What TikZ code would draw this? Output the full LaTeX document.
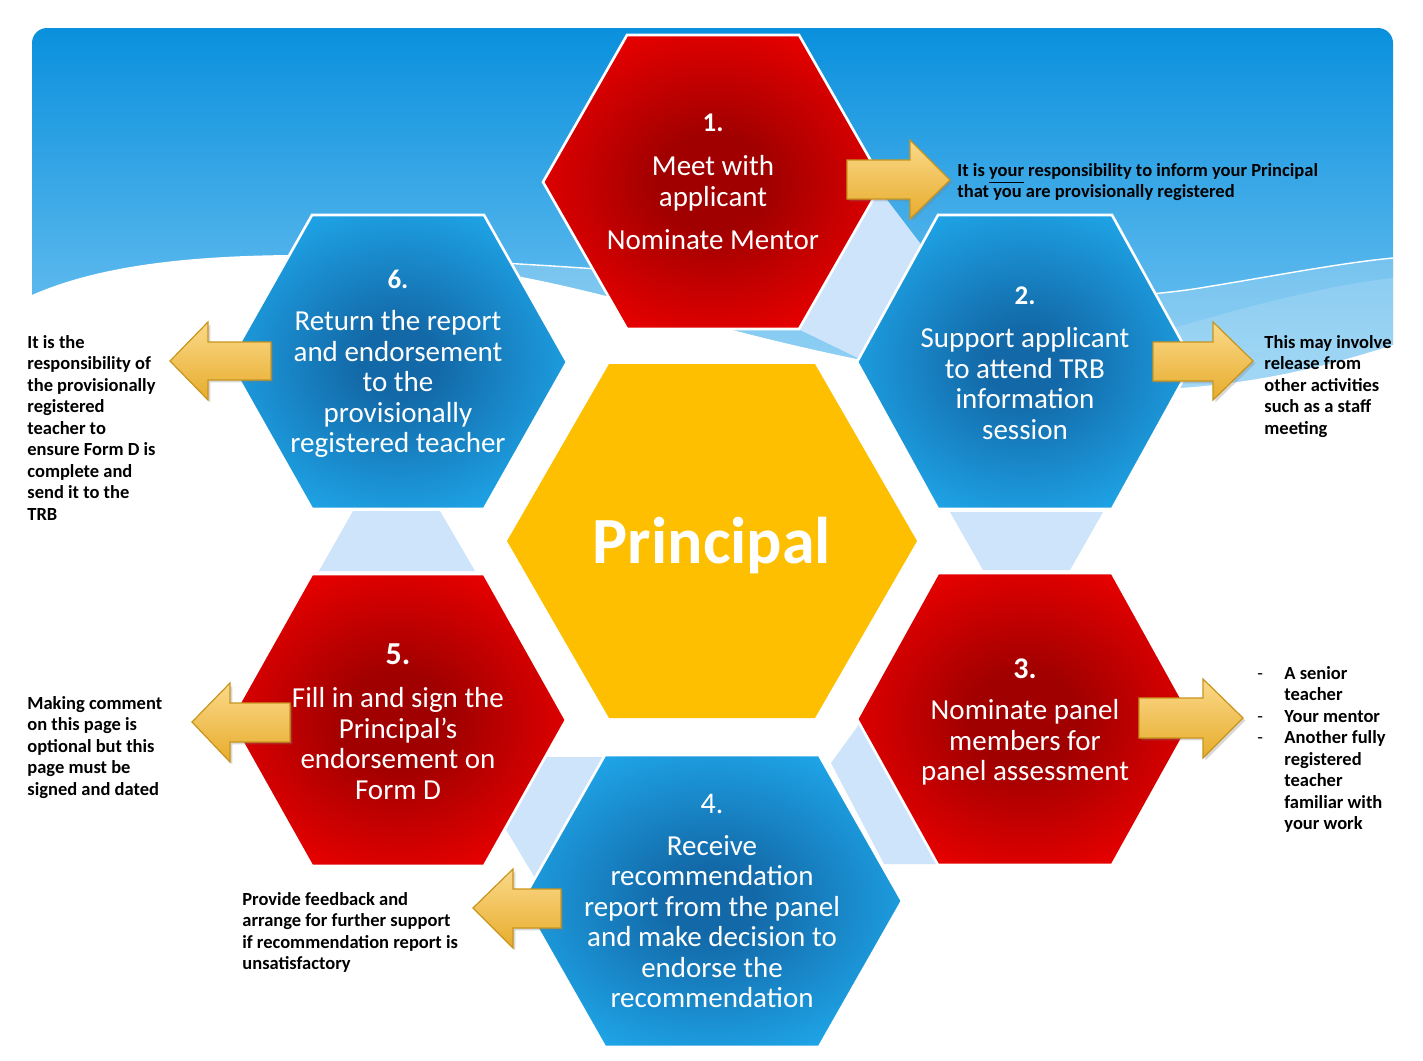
\documentclass[tikz,border=0pt]{standalone}
\usepackage{fontspec}
\setmainfont{Carlito}
\usetikzlibrary{shadows}
\definecolor{bgtop}{HTML}{0A90DD}
\definecolor{bgbot}{HTML}{93D4F8}
\definecolor{redin}{HTML}{A00000}
\definecolor{redout}{HTML}{E80000}
\definecolor{bluein}{HTML}{1369A8}
\definecolor{blueout}{HTML}{1FA9EC}
\definecolor{hexyellow}{HTML}{FDBF00}
\definecolor{bandblue}{HTML}{CDE4FA}
\definecolor{goldtop}{HTML}{FBD98A}
\definecolor{goldbot}{HTML}{E7AC2C}
\definecolor{goldedge}{HTML}{C8951C}
\pgfdeclareradialshading{redhex}{\pgfpoint{0bp}{0bp}}{color(0bp)=(redin); color(8bp)=(redin); color(28bp)=(redout); color(50bp)=(redout)}
\pgfdeclareradialshading{bluehex}{\pgfpoint{0bp}{0bp}}{color(0bp)=(bluein); color(6bp)=(bluein); color(30bp)=(blueout); color(50bp)=(blueout)}
\newcommand\hexfont{\fontsize{14.5}{15.25}\selectfont}
\newcommand\numfont{\fontsize{13.5}{15.25}\selectfont\bfseries}
\newcommand\notefont{\fontsize{9.25}{10.75}\selectfont\bfseries}
\newcommand\hexa[6]{\path[#1] ({#2-#4},{#3-#6}) -- ({#2+#4},{#3-#6}) -- ({#2+#5},#3) -- ({#2+#4},{#3+#6}) -- ({#2-#4},{#3+#6}) -- ({#2-#5},#3) -- cycle;}
\newcommand\dash{\llap{\makebox[13.5pt][l]{\mdseries -}}}
\begin{document}
\begin{tikzpicture}[x=0.5pt,y=-0.5pt,
  redhx/.style={shade, shading=redhex, draw=white, line width=1.3pt},
  bluehx/.style={shade, shading=bluehex, draw=white, line width=1.3pt},
  yelhx/.style={fill=hexyellow},
  band/.style={fill=bandblue},
  goldarrow/.style={top color=goldtop, bottom color=goldbot, draw=goldedge, line width=0.6pt,
     drop shadow={opacity=0.3, shadow xshift=1.2pt, shadow yshift=-1.2pt}},
  hexbody/.style={text=white, font=\hexfont, align=center, inner sep=0pt, anchor=north},
  hexnum/.style={text=white, font=\numfont, inner sep=0pt, anchor=base},
  note/.style={font=\notefont, align=left, anchor=north west, inner sep=0pt, text=black}]
\useasboundingbox (0,0) rectangle (1423,1060);
\fill[white] (0,0) rectangle (1423,1060);
% background sky
\begin{scope}
\clip[rounded corners=7.5pt] (32,28) rectangle (1393,480);
\shade[top color=bgtop, bottom color=bgbot] (32,28) rectangle (1393,480);
\fill[white, opacity=0.22] (290,255) .. controls (700,262) and (1000,320) .. (1200,288) .. controls (1280,275) and (1340,263) .. (1393,258) -- (1393,480) -- (32,480) -- cycle;
\fill[white, opacity=0.14] (1150,335) .. controls (1250,305) and (1330,285) .. (1393,278) -- (1393,480) -- (1150,480) -- cycle;
\draw[white, line width=0.7pt] (290,255) .. controls (700,262) and (1000,320) .. (1200,288) .. controls (1280,275) and (1340,263) .. (1393,258);
\end{scope}
\fill[white] (32,295) .. controls (100,265) and (190,256) .. (290,255) .. controls (420,254) and (530,275) .. (640,305) .. controls (800,350) and (1000,400) .. (1180,388) .. controls (1270,382) and (1340,362) .. (1393,345) -- (1400,345) -- (1400,490) -- (20,490) -- (20,295) -- cycle;
% connecting bands
\path[band] (878,188) -- (923,247) -- (858,358) -- (798,329) -- cycle;
\path[band] (950,512) -- (1103,512) -- (1070,570) -- (983,570) -- cycle;
\path[band] (860,723) -- (831,763) -- (884,864) -- (940,864) -- cycle;
\path[band] (543,757) -- (606,757) -- (535,878) -- (505,828) -- cycle;
\path[band] (353,511) -- (440,511) -- (475,571) -- (319,571) -- cycle;
% hexagons
\hexa{yelhx}{712}{541}{103}{205}{177}
\hexa{redhx}{713}{182}{86}{170}{147}
\hexa{bluehx}{398}{362}{86}{169}{147}
\hexa{bluehx}{1025}{362}{87}{168}{147}
\hexa{redhx}{1025}{719}{87}{168}{146}
\hexa{redhx}{398}{720}{86}{168}{146}
\hexa{bluehx}{712}{901}{107}{190}{146}
% gold arrows
\path[goldarrow] (847,160) -- (910,160) -- (910,140) -- (950,180) -- (910,219) -- (910,199) -- (847,199) -- cycle;
\path[goldarrow] (1153,342) -- (1213,342) -- (1213,322) -- (1253,361) -- (1213,400) -- (1213,381) -- (1153,381) -- cycle;
\path[goldarrow] (1139,698) -- (1203,698) -- (1203,679) -- (1243,718) -- (1203,758) -- (1203,738) -- (1139,738) -- cycle;
\path[goldarrow] (271,342) -- (208,342) -- (208,322) -- (170,361) -- (208,400) -- (208,380) -- (271,380) -- cycle;
\path[goldarrow] (290,703) -- (230,703) -- (230,683) -- (192,722) -- (230,762) -- (230,742) -- (290,742) -- cycle;
\path[goldarrow] (561,889) -- (513,889) -- (513,869) -- (473,908) -- (513,948) -- (513,928) -- (561,928) -- cycle;
% hexagon texts
\node[text=white, font=\fontsize{33}{40}\selectfont\bfseries, inner sep=0pt, anchor=base] (principal) at (712,563) {Principal};
\node[hexnum] (n1) at (713,131) {1.};
\node[hexbody] (t1) at (713,155) {Meet with\\applicant\\[6.5pt]Nominate Mentor};
\node[hexnum] (n6) at (398,288.5) {6.};
\node[hexbody] (t6) at (398,310) {Return the report\\and endorsement\\to the\\provisionally\\registered teacher};
\node[hexnum] (n2) at (1025,304.5) {2.};
\node[hexbody] (t2) at (1025,327) {Support applicant\\to attend TRB\\information\\session};
\node[hexnum, font=\fontsize{15}{16}\selectfont\bfseries] (n3) at (1025,678) {3.};
\node[hexbody] (t3) at (1025,699) {Nominate panel\\members for\\panel assessment};
\node[hexnum, font=\fontsize{15}{16}\selectfont] (n4) at (712,813) {4.};
\node[hexbody] (t4) at (712,835) {Receive\\recommendation\\report from the panel\\and make decision to\\endorse the\\recommendation};
\node[hexnum, font=\fontsize{16}{17}\selectfont\bfseries] (n5) at (398,664) {5.};
\node[hexbody] (t5) at (398,687) {Fill in and sign the\\Principal’s\\endorsement on\\Form D};
% notes
\node[note] (a1) at (957,163) {It is \underline{your} responsibility to inform your Principal\\that you are provisionally registered};
\node[note] (a2) at (1264,335) {This may involve\\release from\\other activities\\such as a staff\\meeting};
\node[note] (a3) at (1284,666) {\dash A senior\\teacher\\\dash Your mentor\\\dash Another fully\\registered\\teacher\\familiar with\\your work};
\node[note] (a6) at (27,335) {It is the\\responsibility of\\the provisionally\\registered\\teacher to\\ensure Form D is\\complete and\\send it to the\\TRB};
\node[note] (a5) at (27,696) {Making comment\\on this page is\\optional but this\\page must be\\signed and dated};
\node[note] (a4) at (242,892) {Provide feedback and\\arrange for further support\\if recommendation report is\\unsatisfactory};
\end{tikzpicture}
\end{document}
